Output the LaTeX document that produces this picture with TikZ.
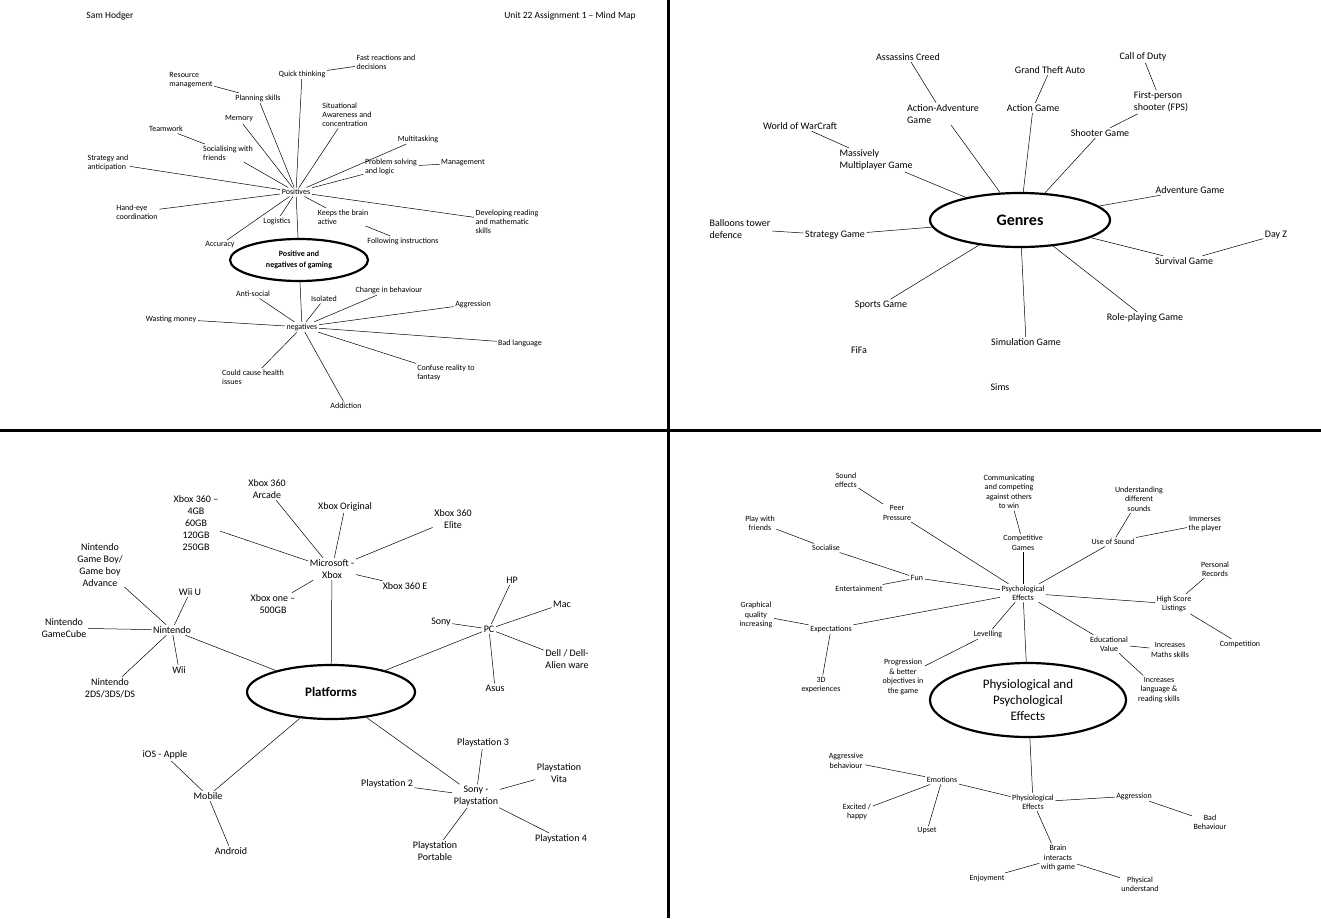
\documentclass[tikz,border=0pt]{standalone}
\usepackage{fontspec}
\setmainfont{Carlito}
\usetikzlibrary{shapes.geometric}
\begin{document}
\begin{tikzpicture}[x=1pt,y=-1pt,
 every node/.style={inner sep=1.5pt},
 s/.style={font=\fontsize{8}{9}\selectfont,align=left},
 sc/.style={font=\fontsize{8}{9.5}\selectfont,align=center},
 g/.style={font=\fontsize{10}{12}\selectfont,align=left},
 gc/.style={font=\fontsize{10}{12}\selectfont,align=center},
 main/.style={ellipse,draw,line width=2.2pt,minimum width=#1},
 l/.style={draw,line width=0.5pt}]
\useasboundingbox (0,0) rectangle (1321,918);
\draw[line width=3pt] (668,0) -- (668,918);
\draw[line width=3pt] (0,430) -- (1321,430);
% ---------- Top left
\node[font=\fontsize{9.5}{10}\selectfont] (sam) at (110,16) {Sam Hodger};
\node[font=\fontsize{9.5}{10}\selectfont] (unit) at (570,16) {Unit 22 Assignment 1 – Mind Map};
\node[main=138pt,minimum height=42pt,font=\bfseries\fontsize{8}{10.5}\selectfont,align=center] (pn) at (299,260) {Positive and\\negatives of gaming};
\node[s] (pos) at (296,192) {Positives};
\node[s] (fast) at (386,62) {Fast reactions and\\decisions};
\node[s] (quick) at (302,74) {Quick thinking};
\node[s] (res) at (191,80) {Resource\\management};
\node[s] (plan) at (258,98) {Planning skills};
\node[s] (mem) at (239,119) {Memory};
\node[s] (sit) at (347,115) {Situational\\Awareness and\\concentration};
\node[s] (team) at (166,129) {Teamwork};
\node[s] (multi) at (418,139) {Multitasking};
\node[s] (soc) at (228,153) {Socialising with\\friends};
\node[s] (strat) at (108,163) {Strategy and\\anticipation};
\node[s] (prob) at (391,167) {Problem solving\\and logic};
\node[s] (manag) at (463,163) {Management};
\node[s] (hand) at (137,212) {Hand-eye\\coordination};
\node[s] (logi) at (277,221) {Logistics};
\node[s] (keep) at (343,217) {Keeps the brain\\active};
\node[s] (dev) at (507,222) {Developing reading\\and mathematic\\skills};
\node[s] (follow) at (403,241) {Following instructions};
\node[s] (acc) at (220,245) {Accuracy};
\node[s] (neg) at (302,327) {negatives};
\node[s] (anti) at (253,294) {Anti-social};
\node[s] (iso) at (324,299) {Isolated};
\node[s] (chg) at (389,290) {Change in behaviour};
\node[s] (aggr) at (473,304) {Aggression};
\node[s] (wast) at (171,319) {Wasting money};
\node[s] (bad) at (520,343) {Bad language};
\node[s] (conf) at (446,373) {Confuse reality to\\fantasy};
\node[s] (health) at (253,377) {Could cause health\\issues};
\node[s] (addi) at (346,406) {Addiction};
\foreach \n in {quick,plan,mem,sit,multi,soc,strat,prob,hand,logi,keep,dev,acc} \draw[l] (pos) -- (\n);
\draw[l] (pn) -- (pos); \draw[l] (pn) -- (neg);
\draw[l] (quick) -- (fast); \draw[l] (plan) -- (res); \draw[l] (soc) -- (team);
\draw[l] (prob) -- (manag); \draw[l] (keep) -- (follow);
\foreach \n in {anti,iso,chg,aggr,wast,bad,conf,health,addi} \draw[l] (neg) -- (\n);
% ---------- Top right
\node[main=180pt,minimum height=54pt,font=\bfseries\fontsize{16}{18}\selectfont] (gen) at (1020,220) {Genres};
\node[g] (ac) at (908,57) {Assassins Creed};
\node[g] (gta) at (1050,70) {Grand Theft Auto};
\node[g] (cod) at (1143,57) {Call of Duty};
\node[g] (aag) at (943,114) {Action-Adventure\\Game};
\node[g] (actg) at (1033,108) {Action Game};
\node[g] (fps) at (1161,102) {First-person\\shooter (FPS)};
\node[g] (wow) at (800,126) {World of WarCraft};
\node[g] (shoot) at (1100,133) {Shooter Game};
\node[g] (mmg) at (876,160) {Massively\\Multiplayer Game};
\node[g] (adv) at (1190,190) {Adventure Game};
\node[g] (ball) at (740,229) {Balloons tower\\defence};
\node[g] (strg) at (835,235) {Strategy Game};
\node[g] (dayz) at (1276,235) {Day Z};
\node[g] (surv) at (1184,261) {Survival Game};
\node[g] (spo) at (881,305) {Sports Game};
\node[g] (rpg) at (1145,318) {Role-playing Game};
\node[g] (sim) at (1026,342) {Simulation Game};
\node[g] (fifa) at (859,350) {FiFa};
\node[g] (sims) at (1000,387) {Sims};
\foreach \n in {aag,actg,shoot,mmg,adv,strg,surv,spo,rpg,sim} \draw[l] (gen) -- (\n);
\draw[l] (aag) -- (ac); \draw[l] (actg) -- (gta); \draw[l] (shoot) -- (fps); \draw[l] (fps) -- (cod);
\draw[l] (mmg) -- (wow); \draw[l] (strg) -- (ball); \draw[l] (surv) -- (dayz);
% ---------- Bottom left
\node[main=168pt,minimum height=54pt,font=\bfseries\fontsize{13}{15}\selectfont] (plat) at (331,692) {Platforms};
\node[gc] (arc) at (267,489) {Xbox 360\\Arcade};
\node[gc] (xorig) at (345,507) {Xbox Original};
\node[gc] (x4) at (196,523) {Xbox 360 –\\4GB\\60GB\\120GB\\250GB};
\node[gc] (elite) at (453,519) {Xbox 360\\Elite};
\node[gc] (ms) at (332,569) {Microsoft -\\Xbox};
\node[gc] (xe) at (405,586) {Xbox 360 E};
\node[gc] (xone) at (273,604) {Xbox one –\\500GB};
\node[gc] (gb) at (100,565) {Nintendo\\Game Boy/\\Game boy\\Advance};
\node[gc] (wiiu) at (190,592) {Wii U};
\node[gc] (nin) at (172,630) {Nintendo};
\node[gc] (gc) at (64,628) {Nintendo\\GameCube};
\node[gc] (wii) at (179,670) {Wii};
\node[gc] (ds) at (110,688) {Nintendo\\2DS/3DS/DS};
\node[gc] (hp) at (512,580) {HP};
\node[gc] (mac) at (562,604) {Mac};
\node[gc] (sony) at (441,622) {Sony};
\node[gc] (pc) at (489,629) {PC};
\node[gc] (dell) at (567,659) {Dell / Dell-\\Alien ware};
\node[gc] (asus) at (495,688) {Asus};
\node[gc] (ios) at (165,755) {iOS - Apple};
\node[gc] (mob) at (208,796) {Mobile};
\node[gc] (andr) at (231,851) {Android};
\node[gc] (ps3) at (483,743) {Playstation 3};
\node[gc] (vita) at (559,773) {Playstation\\Vita};
\node[gc] (ps2) at (387,784) {Playstation 2};
\node[gc] (sps) at (476,796) {Sony -\\Playstation};
\node[gc] (ps4) at (561,839) {Playstation 4};
\node[gc] (psp) at (435,851) {Playstation\\Portable};
\foreach \n in {ms,nin,pc,mob,sps} \draw[l] (plat) -- (\n);
\foreach \n in {arc,xorig,x4,elite,xe,xone} \draw[l] (ms) -- (\n);
\foreach \n in {gb,wiiu,gc,wii,ds} \draw[l] (nin) -- (\n);
\foreach \n in {hp,mac,sony,dell,asus} \draw[l] (pc) -- (\n);
\foreach \n in {ios,andr} \draw[l] (mob) -- (\n);
\foreach \n in {ps3,vita,ps2,ps4,psp} \draw[l] (sps) -- (\n);
% ---------- Bottom right
\node[main=196pt,minimum height=74pt,font=\fontsize{13}{16}\selectfont,align=center] (phy) at (1028,700) {Physiological and\\Psychological\\Effects};
\node[sc] (sfx) at (846,480) {Sound\\effects};
\node[sc] (peer) at (897,513) {Peer\\Pressure};
\node[sc] (comm) at (1009,492) {Communicating\\and competing\\against others\\to win};
\node[sc] (compg) at (1023,543) {Competitive\\Games};
\node[sc] (und) at (1139,499) {Understanding\\different\\sounds};
\node[sc] (uos) at (1113,542) {Use of Sound};
\node[sc] (imm) at (1205,524) {Immerses\\the player};
\node[sc] (play) at (760,523) {Play with\\friends};
\node[sc] (socl) at (826,548) {Socialise};
\node[sc] (fun) at (917,578) {Fun};
\node[sc] (ent) at (859,589) {Entertainment};
\node[sc] (psy) at (1023,593) {Psychological\\Effects};
\node[sc] (pers) at (1215,569) {Personal\\Records};
\node[sc] (hs) at (1174,604) {High Score\\Listings};
\node[sc] (graph) at (756,615) {Graphical\\quality\\increasing};
\node[sc] (exp) at (831,629) {Expectations};
\node[sc] (compt) at (1240,644) {Competition};
\node[sc] (lev) at (988,634) {Levelling};
\node[sc] (edu) at (1109,644) {Educational\\Value};
\node[sc] (math) at (1170,650) {Increases\\Maths skills};
\node[sc] (prog) at (903,677) {Progression\\\& better\\objectives in\\the game};
\node[sc] (td) at (821,685) {3D\\experiences};
\node[sc] (lang) at (1159,690) {Increases\\language \&\\reading skills};
\node[sc] (aggb) at (846,761) {Aggressive\\behaviour};
\node[sc] (emo) at (942,780) {Emotions};
\node[sc] (exc) at (857,812) {Excited /\\happy};
\node[sc] (ups) at (927,831) {Upset};
\node[sc] (phe) at (1033,802) {Physiological\\Effects};
\node[sc] (agn) at (1134,796) {Aggression};
\node[sc] (badb) at (1210,822) {Bad\\Behaviour};
\node[sc] (brain) at (1058,858) {Brain\\interacts\\with game};
\node[sc] (enj) at (987,878) {Enjoyment};
\node[sc] (physu) at (1140,884) {Physical\\understand};
\draw[l] (phy) -- (psy); \draw[l] (phy) -- (phe);
\foreach \n in {peer,compg,uos,fun,hs,exp,lev,edu} \draw[l] (psy) -- (\n);
\draw[l] (peer) -- (sfx); \draw[l] (compg) -- (comm); \draw[l] (uos) -- (und); \draw[l] (uos) -- (imm);
\draw[l] (fun) -- (socl); \draw[l] (fun) -- (ent); \draw[l] (socl) -- (play);
\draw[l] (hs) -- (pers); \draw[l] (hs) -- (compt); \draw[l] (exp) -- (graph); \draw[l] (exp) -- (td);
\draw[l] (lev) -- (prog); \draw[l] (edu) -- (math); \draw[l] (edu) -- (lang);
\foreach \n in {emo,agn,brain} \draw[l] (phe) -- (\n);
\foreach \n in {aggb,exc,ups} \draw[l] (emo) -- (\n);
\draw[l] (agn) -- (badb); \draw[l] (brain) -- (enj); \draw[l] (brain) -- (physu);
\end{tikzpicture}
\end{document}
